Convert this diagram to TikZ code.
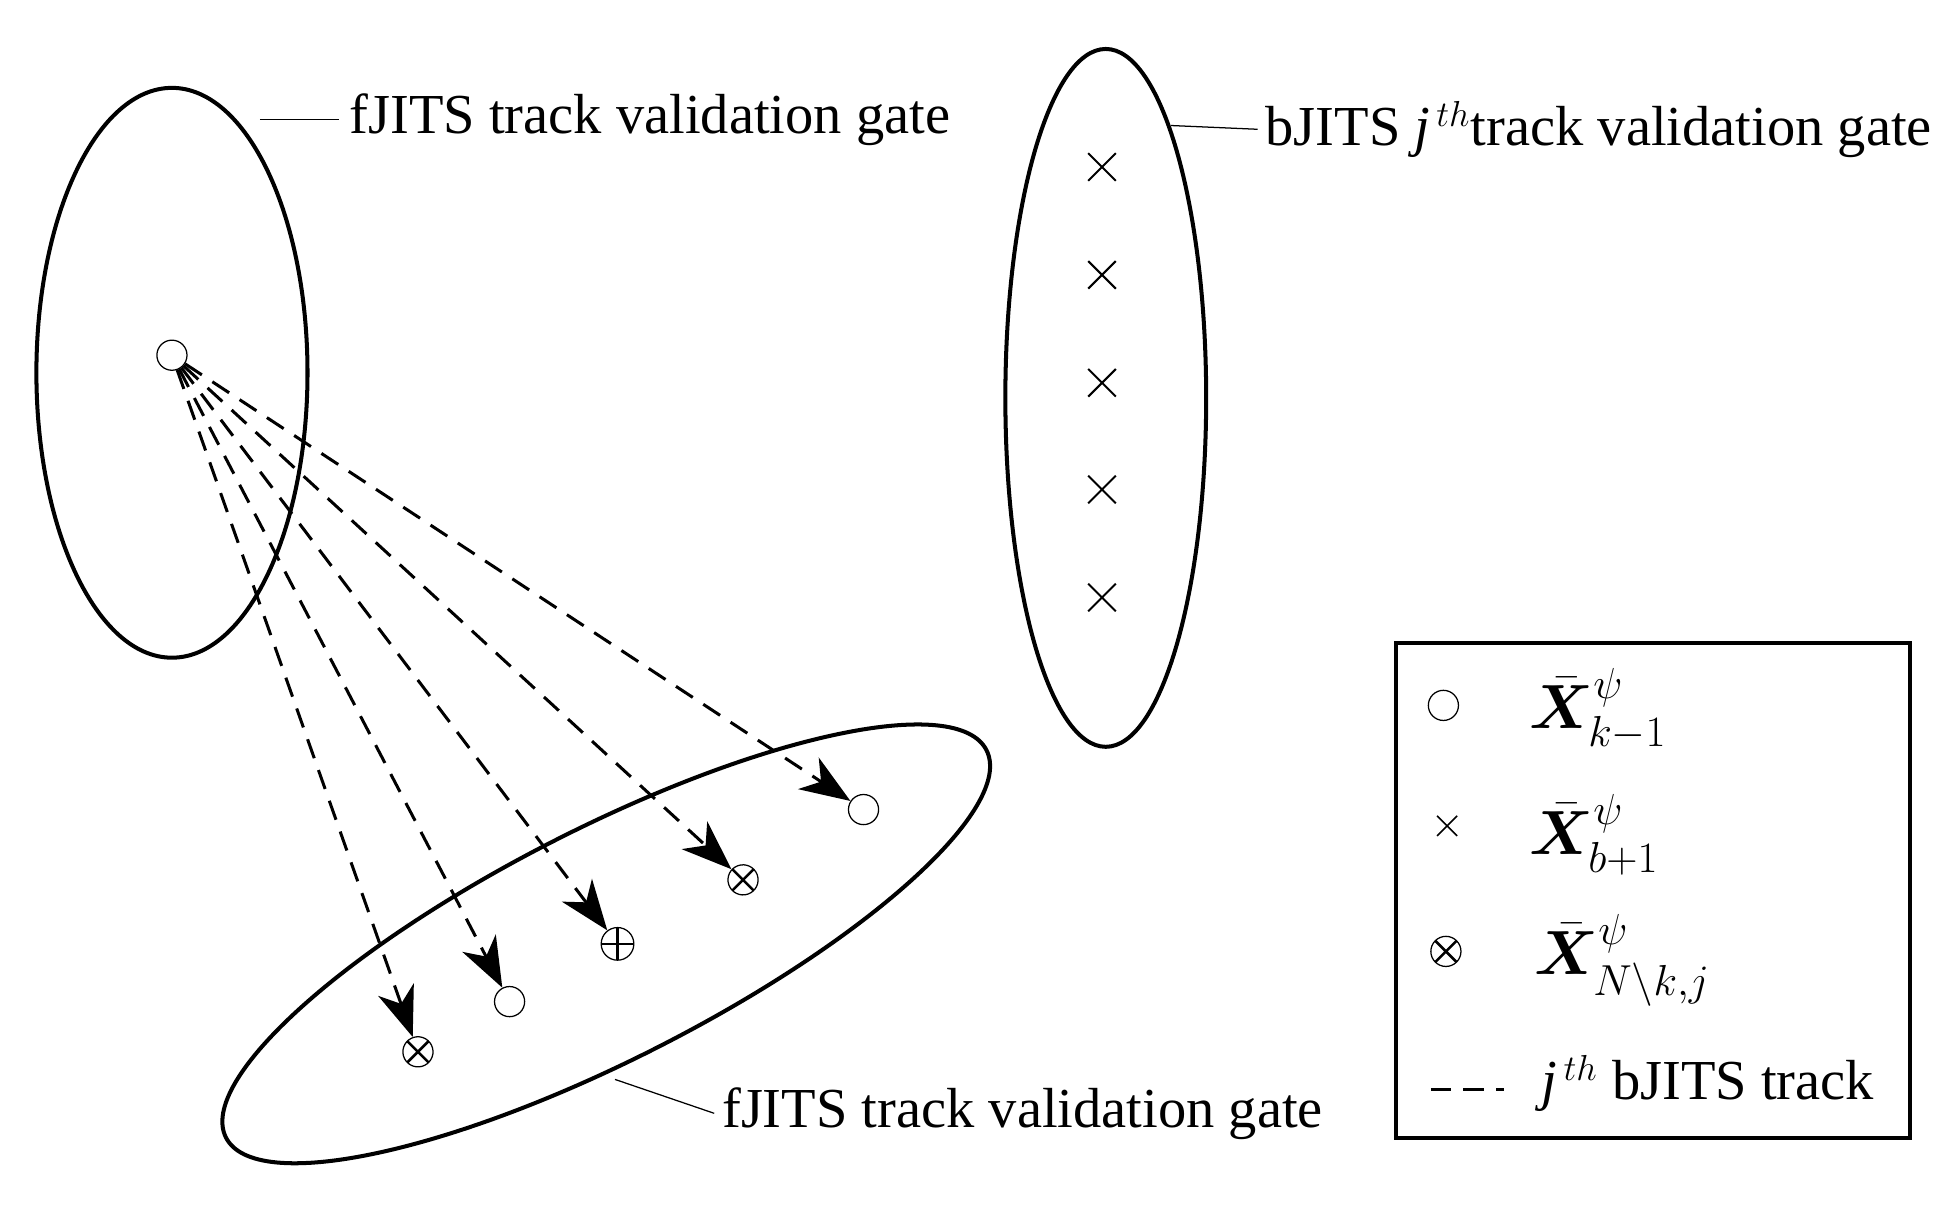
\documentclass[tikz,border=0pt]{standalone}
\usepackage{amsmath,bm}
\usepackage{fontspec}
\setmainfont{Liberation Serif}
\usetikzlibrary{arrows.meta}
\begin{document}
\begin{tikzpicture}[x=0.5pt,y=-0.5pt,
  lbl/.style={anchor=west,inner sep=0pt,font=\fontsize{22.5}{26}\selectfont},
  mlbl/.style={anchor=west,inner sep=0pt,font=\fontsize{25}{28}\selectfont},
  gate/.style={line width=1.6pt},
  lead/.style={line width=0.5pt},
  circ/.style={circle,draw,line width=0.5pt,inner sep=0pt,minimum size=12pt},
  otim/.style={circ,path picture={\draw[line width=1pt]
     (path picture bounding box.north west)--(path picture bounding box.south east)
     (path picture bounding box.north east)--(path picture bounding box.south west);}},
  oplu/.style={circ,minimum size=13pt,path picture={\draw[line width=1pt]
     (path picture bounding box.north)--(path picture bounding box.south)
     (path picture bounding box.east)--(path picture bounding box.west);}},
  track/.style={line width=1.2pt,dash pattern=on 8pt off 5pt,-{Stealth[length=20pt,width=15pt,inset=6pt]}},
  xmark/.style={line width=0.8pt}]
\useasboundingbox (0,0) rectangle (1560,960);
% gates
\draw[gate] (137,297) ellipse [x radius=108,y radius=227];
\draw[gate] (881,317) ellipse [x radius=80,y radius=278];
\draw[gate,rotate around={27:(483,752)}] (483,752) ellipse [x radius=340,y radius=92];
% labels
\coordinate (l1a) at (207,95); \node[lbl] (t1) at (278,95) {fJITS track validation gate};
\draw[lead] (l1a) -- ([xshift=-4pt]t1.west);
\coordinate (l2a) at (933,100); \node[lbl] (t2) at (1008,103) {bJITS \textit{j}$^{\,th}$track validation gate};
\draw[lead] (l2a) -- ([xshift=-3pt]t2.west);
\coordinate (l3a) at (490,860); \node[lbl] (t3) at (575,887) {fJITS track validation gate};
\draw[lead] (l3a) -- ([xshift=-3pt]t3.west);
% crosses
\foreach \y [count=\i] in {133,219,305,390,476}{
  \draw[xmark] (867,\y-11) -- (889,\y+11) (867,\y+11) -- (889,\y-11);}
% nodes
\node[circ] (src) at (137,283) {};
\node[otim,rotate=15] (a) at (333,838) {};
\node[circ] (b) at (406,798) {};
\node[oplu] (c) at (492,752) {};
\node[otim,rotate=8] (d) at (592,701) {};
\node[circ] (e) at (688,645) {};
\foreach \t in {a,b,c,d,e}{\draw[track] (src) -- (\t);}
% legend
\node[draw,line width=1.6pt,minimum width=205pt,minimum height=197.5pt,inner sep=0pt] (leg) at (1317,709.5) {};
\node[circ] (lc) at (1150,562) {};
\node[mlbl] at (1218,565) {$\bar{\bm X}^{\psi}_{k-1}$};
\draw[xmark,line width=0.6pt] (1145,650) -- (1161,666) (1145,666) -- (1161,650);
\node[mlbl] at (1218,665) {$\bar{\bm X}^{\psi}_{b+1}$};
\node[otim] (lo) at (1152,758) {};
\node[mlbl] at (1222,765) {$\bar{\bm X}^{\psi}_{N\backslash k,j}$};
\coordinate (ld1) at (1140,868); \coordinate (ld2) at (1198,868);
\draw[line width=1.2pt,dash pattern=on 8pt off 5pt] (ld1) -- (ld2);
\node[lbl] at (1228,863) {\textit{j}$^{\,th}$ bJITS track};
\end{tikzpicture}
\end{document}
